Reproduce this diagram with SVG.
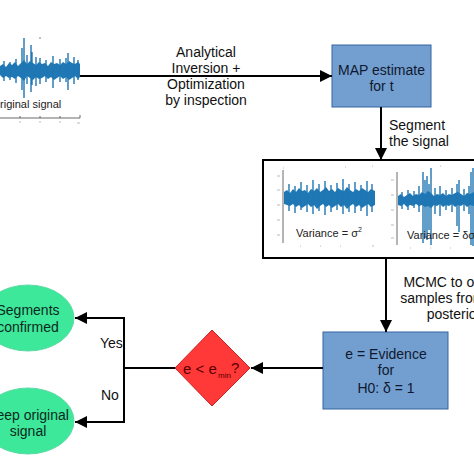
<svg xmlns="http://www.w3.org/2000/svg" width="474" height="474" viewBox="0 0 474 474">
<defs>
<marker id="ah" markerUnits="userSpaceOnUse" markerWidth="13" markerHeight="13" refX="12" refY="6" orient="auto">
<path d="M0,0 L12,6 L0,12 Z" fill="#000"/>
</marker>
</defs>
<style>
text{font-family:"Liberation Sans",Arial,sans-serif;font-size:14px;}
.conn{stroke:#000;stroke-width:2;fill:none;}
.box{fill:#729fcf;stroke:#3465a4;stroke-width:1;}
.boxt{fill:#101830;text-anchor:middle;}
.ell{fill:#3de89b;stroke:#5fd9a5;stroke-width:1;}
.ellt{fill:#0c2a1c;text-anchor:middle;}
.lbl{fill:#111;}
.wave{fill:#1f77b4;}
.spk{stroke:#1f77b4;stroke-width:1.4;fill:none;}
.ax{stroke:#444;stroke-width:0.8;fill:none;}
.tick{stroke:#aaa;stroke-width:0.8;fill:none;}
.var{font-size:11px;fill:#222;}
</style>
<rect width="474" height="474" fill="#fff"/>

<g id="original-signal">
<path class="wave" d="M0,66 3,64 6,67 9,63 12,65 15,62 18,66 21,63 24,60 27,64 30,61 33,63 36,65 39,62 42,64 45,63 48,66 51,62 54,64 57,63 60,65 63,62 66,64 69,61 72,63 75,64 78,62 80,64 80,77 78,79 75,76 72,78 69,80 66,77 63,79 60,76 57,78 54,80 51,77 48,79 45,76 42,78 39,79 36,77 33,80 30,78 27,76 24,81 21,78 18,76 15,79 12,77 9,78 6,76 3,78 0,75Z"/>
<path class="spk" d="M24,38V98 M22,48V90 M31,45V92 M32,52V85 M27,55V84 M53,56V88 M68,53V90 M66,58V82 M46,60V82 M10,62V80 M40,58V84 M4,61V81 M16,59V83 M36,57V86 M60,59V82 M74,57V84 M78,60V80"/>
<circle cx="40" cy="38" r="0.8" fill="#777"/>
<text x="-8.5" y="108" style="font-size:11px" fill="#222">Original signal</text>
<path class="ax" d="M0,118H80 M20,118v-2 M40,118v-2 M60,118v-2 M80,118v-3"/>
<path class="tick" d="M19,122h2 M39,122h2 M59,122h2 M77,123h3"/>
</g>

<g id="map-estimate">
<rect class="box" x="332" y="45" width="99" height="62"/>
<text class="boxt" x="381.5" y="75">MAP estimate</text>
<text class="boxt" x="381.5" y="91">for t</text>
</g>

<g id="segments-box">
<rect x="263" y="160" width="230" height="98" fill="#fff" stroke="#000" stroke-width="2"/>
<path class="ax" d="M283,170V243 M397,172V245"/>
<path class="tick" d="M277,176h3 M277,190h3 M277,205h3 M277,220h3 M277,235h3 M391,180h3 M391,195h3 M391,210h3 M391,225h3 M391,238h3 M300,246h1 M320,246h1 M340,246h1 M372,246h2 M410,248h1 M430,248h1 M450,248h1 M283,168h1 M345,167h1 M372,166h1 M440,166h1"/>
<path class="wave" d="M284,192 287,190 290,193 293,189 296,192 299,188 302,191 305,190 308,193 311,189 314,191 317,188 320,192 323,190 326,187 329,191 332,189 335,192 338,188 341,190 344,191 347,187 350,190 353,192 356,189 359,191 362,188 365,190 368,192 371,189 375,191 375,205 371,207 368,204 365,206 362,208 359,205 356,207 353,204 350,206 347,209 344,205 341,207 338,204 335,206 332,208 329,205 326,207 323,204 320,206 317,209 314,205 311,207 308,204 305,206 302,208 299,205 296,207 293,204 290,206 287,205 284,204Z"/>
<path class="spk" d="M289,184V211 M295,186V213 M301,182V210 M307,185V212 M313,180V214 M319,184V211 M325,181V215 M331,185V212 M337,183V210 M343,179V214 M349,184V212 M355,182V213 M361,185V211 M367,181V216 M372,184V212"/>
<text class="var" x="296" y="237">Variance = σ<tspan dy="-5" style="font-size:7px">2</tspan></text>
<path class="wave" d="M398,196 401,194 404,197 407,195 410,193 413,196 416,194 419,195 422,192 425,194 428,191 431,193 434,196 437,194 440,195 443,193 446,196 449,194 452,195 455,193 458,192 461,194 464,196 467,193 470,194 474,192 474,206 470,205 467,207 464,204 461,206 458,205 455,207 452,204 449,206 446,205 443,207 440,204 437,206 434,205 431,208 428,206 425,207 422,205 419,206 416,204 413,206 410,205 407,207 404,204 401,206 398,205Z"/>
<path class="spk" d="M402,192V209 M408,190V210 M414,191V208 M419,186V212 M423,172V243 M425,180V238 M427,176V240 M429,184V230 M431,168V245 M435,188V214 M440,186V216 M446,190V210 M452,188V212 M457,184V226 M459,180V232 M464,189V211 M469,186V214 M471,172V245 M473,168V246"/>
<text class="var" x="407" y="239">Variance = δσ<tspan dy="-5" style="font-size:7px">2</tspan></text>
</g>

<g id="evidence">
<rect class="box" x="323" y="332" width="125" height="77"/>
<text class="boxt" x="386" y="359">e = Evidence</text>
<text class="boxt" x="386" y="375">for</text>
<text class="boxt" x="386" y="393">H0: δ = 1</text>
</g>

<g id="decision">
<polygon points="212,330 250,368 212,406 175,368" fill="#ff3838" stroke="#c9211e" stroke-width="1"/>
<text x="183" y="374" fill="#5a0000" style="font-size:15px">e &lt; e</text>
<text x="218" y="378" fill="#5a0000" style="font-size:8px">min</text>
<text x="231" y="373" fill="#5a0000" style="font-size:15px">?</text>
</g>

<g id="segments-confirmed">
<ellipse class="ell" cx="28" cy="318" rx="46" ry="33"/>
<text class="ellt" x="28" y="315">Segments</text>
<text class="ellt" x="28" y="332">confirmed</text>
</g>

<g id="keep-original">
<ellipse class="ell" cx="28" cy="421" rx="46" ry="33"/>
<text class="ellt" x="28" y="420">Keep original</text>
<text class="ellt" x="28" y="436">signal</text>
</g>

<g id="connectors">
<path class="conn" d="M80,76H332" marker-end="url(#ah)"/>
<path class="conn" d="M381,107V160" marker-end="url(#ah)"/>
<path class="conn" d="M386,258V332" marker-end="url(#ah)"/>
<path class="conn" d="M323,368H251" marker-end="url(#ah)"/>
<path class="conn" d="M175,368H124 M124,317V423"/>
<path class="conn" d="M124,318H75" marker-end="url(#ah)"/>
<path class="conn" d="M124,422H75" marker-end="url(#ah)"/>
<g class="lbl" text-anchor="middle">
<text x="206" y="57">Analytical</text>
<text x="206" y="73">Inversion +</text>
<text x="206" y="89">Optimization</text>
<text x="206" y="105">by inspection</text>
<text x="454" y="287">MCMC to obtain</text>
<text x="454" y="303">samples from the</text>
<text x="454" y="319">posterior</text>
</g>
<text class="lbl" x="389" y="130">Segment</text>
<text class="lbl" x="389" y="146">the signal</text>
<text class="lbl" x="100" y="348">Yes</text>
<text class="lbl" x="101" y="400">No</text>
</g>
</svg>
